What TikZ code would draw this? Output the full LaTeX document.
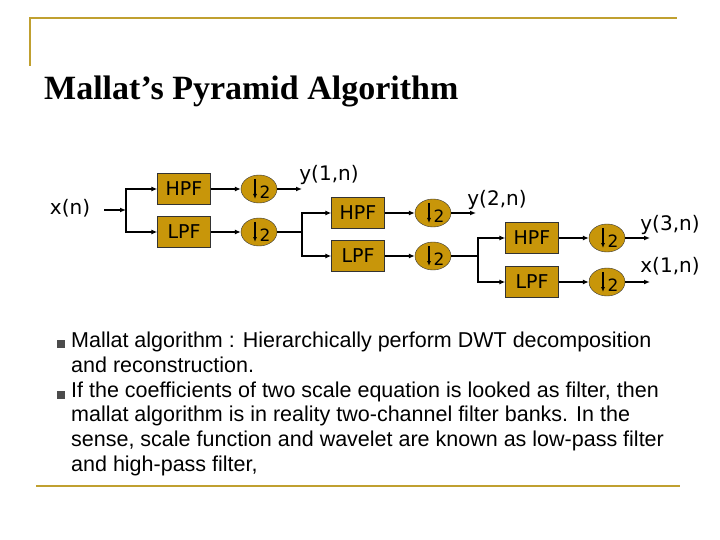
\documentclass[tikz,border=0pt]{standalone}
\usepackage{fontspec}
\setmainfont{Liberation Sans}
\newfontfamily\djvsans{DejaVu Sans}
\newfontfamily\tmsserif{Liberation Serif}
\usetikzlibrary{arrows.meta,shapes.geometric}
\definecolor{gold}{HTML}{C8960A}
\definecolor{rule}{HTML}{C0A030}
\begin{document}
\begin{tikzpicture}[x=1pt,y=-1pt,
  filt/.style={draw=black!80,fill=gold,minimum width=53pt,minimum height=31pt,inner sep=0,font=\djvsans\fontsize{19}{19}\selectfont},
  dn/.style={ellipse,draw=black!80,fill=gold,minimum width=36pt,minimum height=28pt,inner sep=0},
  lab/.style={font=\djvsans\fontsize{20}{20}\selectfont,inner sep=0},
  arr/.style={-{Latex[length=6pt,width=5pt]},line width=1.5pt},
  ln/.style={line width=1.5pt}]
\useasboundingbox (0,0) rectangle (720,540);
\draw[rule,line width=2.5pt] (30,66) -- (30,18) -- (677,18);
\draw[rule,line width=2pt] (36,486) -- (680,486);
\node[anchor=base west,inner sep=0,font=\tmsserif\bfseries\fontsize{34}{34}\selectfont] (title) at (44,100) {Mallat’s Pyramid Algorithm};
% stages
\foreach \k/\x/\yh/\yl in {1/184/189/232, 2/358/213/256, 3/532/238/282}{
  \node[filt] (h\k) at (\x,\yh) {HPF};
  \node[filt] (l\k) at (\x,\yl) {LPF};
  \node[dn] (dh\k) at (\x+75,\yh) {};
  \node[dn] (dl\k) at (\x+75,\yl) {};
  \draw[arr] (h\k) -- (dh\k);
  \draw[arr] (l\k) -- (dl\k);
}
\foreach \n in {dh1,dl1,dh2,dl2,dh3,dl3}{
  \draw[-{Latex[length=5pt,width=4pt]},line width=1.3pt] ([xshift=-4pt,yshift=10pt]\n.center) -- ([xshift=-4pt,yshift=-10pt]\n.center);
  \node[lab,font=\djvsans\fontsize{17}{17}\selectfont] at ([xshift=6pt,yshift=-3pt]\n.center) {2};
}
% splits
\coordinate (s1) at (126,210);
\coordinate (s2) at (302,232);
\coordinate (s3) at (478,256);
\node[lab] (xn) at (70,208) {x(n)};
\coordinate (xin) at (104,210);
\draw[arr] (xin) -- (s1);
\draw[ln] (dl1) -- (s2);
\draw[ln] (dl2) -- (s3);
\foreach \k in {1,2,3}{
  \draw[arr] (s\k) |- (h\k);
  \draw[arr] (s\k) |- (l\k);
}
% outputs
\coordinate (o1) at (302,189);
\coordinate (o2) at (476,213);
\coordinate (o3) at (650,238);
\coordinate (o4) at (650,282);
\draw[arr] (dh1) -- (o1);
\draw[arr] (dh2) -- (o2);
\draw[arr] (dh3) -- (o3);
\draw[arr] (dl3) -- (o4);
\node[lab] (y1) at (329,175) {y(1,n)};
\node[lab] (y2) at (497,200) {y(2,n)};
\node[lab] (y3) at (670,225) {y(3,n)};
\node[lab] (x1) at (670,266) {x(1,n)};
% bullets
\fill[black!70] (57,340) rectangle (65,348);
\fill[black!70] (57,391) rectangle (65,399);
\node[anchor=north west,inner sep=0,align=left,font=\fontsize{21.5}{24.7}\selectfont] (t) at (71,332) {Mallat algorithm : Hierarchically perform DWT decomposition\\and reconstruction.\\If the coefficients of two scale equation is looked as filter, then\\mallat algorithm is in reality two-channel filter banks. In the\\sense, scale function and wavelet are known as low-pass filter\\and high-pass filter,};
\end{tikzpicture}
\end{document}
